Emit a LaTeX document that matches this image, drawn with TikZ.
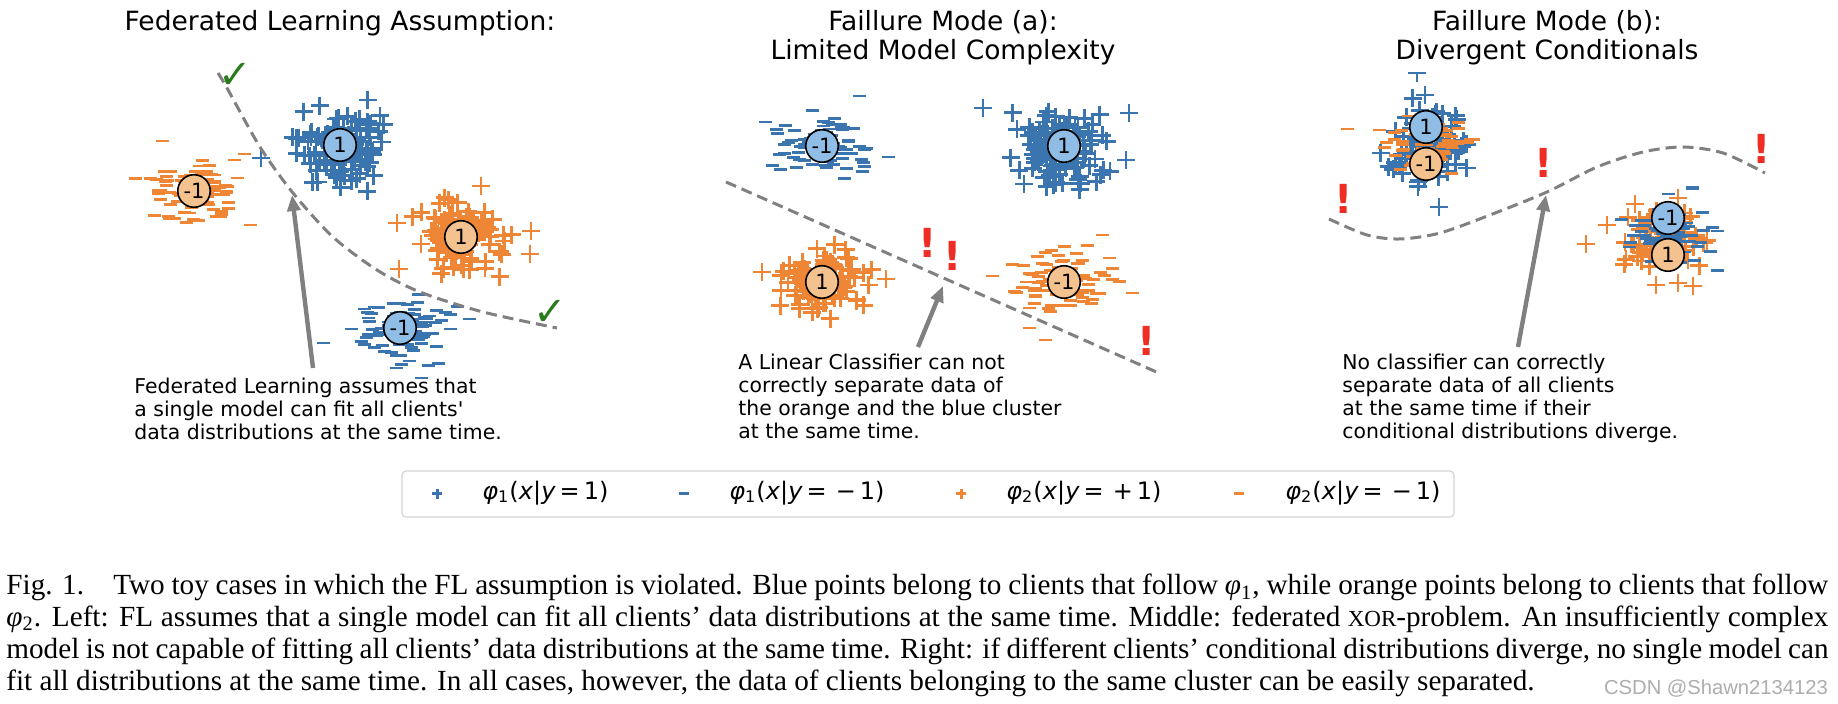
\documentclass[tikz,border=0pt]{standalone}
\usepackage{fontspec}
\setmainfont{DejaVu Sans}
\newfontfamily\capfont{Liberation Serif}
\newfontfamily\wmfont{Liberation Sans}
\usetikzlibrary{arrows.meta}
\definecolor{clblue}{HTML}{3B75AF}
\definecolor{clorange}{HTML}{EF8636}
\definecolor{fillblue}{HTML}{8FBDE6}
\definecolor{fillorange}{HTML}{F4C28E}
\definecolor{mygreen}{HTML}{2A7A1E}
\definecolor{myred}{HTML}{EE2E24}
\tikzset{
 plusmark/.pic={\draw (-9,0)--(9,0) (0,-9)--(0,9);},
 minusmark/.pic={\draw (-6.5,0)--(6.5,0);},
 cluster/.style={circle,draw=black,line width=0.8pt,minimum size=32.5*0.5pt,inner sep=0pt,font=\fontsize{10.5}{11}\selectfont},
 bluecenter/.style={cluster,fill=fillblue},
 orangecenter/.style={cluster,fill=fillorange},
 boundary/.style={gray,line width=1.5pt,dash pattern=on 5.5pt off 3pt},
 pointer/.style={-{Triangle[width=6.5pt,length=8pt]},gray,line width=2.2pt},
 titlelabel/.style={align=center,inner sep=0pt,anchor=north,font=\fontsize{13.25}{14.5}\selectfont},
 notelabel/.style={align=left,inner sep=0pt,anchor=north west,font=\fontsize{10.2}{11.5}\selectfont},
 alarm/.style={inner sep=0pt,text=myred,font=\fontsize{20}{20}\selectfont\bfseries},
 okmark/.style={inner sep=0pt,text=mygreen,font=\fontsize{20}{20}\selectfont},
 lglabel/.style={inner sep=0pt,anchor=west,font=\fontsize{12}{13}\selectfont}
}
% pic, colour, centre, spread, count
\newcommand{\cloud}[7]{
 \foreach \i in {1,...,#7}{
  \pgfmathsetmacro{\ptx}{#3+#5*(rand+rand+rand)}
  \pgfmathsetmacro{\pty}{#4+#6*(rand+rand+rand)}
  \pic[#2,line width=1.45pt] at (\ptx,\pty) {#1};
 }
}
\newcommand{\phisub}[1]{{\itshape φ}\textsubscript{#1}}
\newcommand{\capline}[1]{\makebox[911pt][s]{#1}\\}
\begin{document}
\begin{tikzpicture}[x=0.5pt,y=-0.5pt]
 \useasboundingbox (0,0) rectangle (1838,704);
 \pgfmathsetseed{17}
 % left panel
 \node[titlelabel] (title1) at (340,10) {Federated Learning Assumption:};
 \cloud{plusmark}{clblue}{340}{146}{21}{18}{110}
 \cloud{minusmark}{clorange}{194}{191}{23}{15}{85}
 \cloud{plusmark}{clorange}{458}{238}{20}{17}{110}
 \cloud{minusmark}{clblue}{400}{328}{23}{15}{90}
 \foreach \p in {(261,158)} {\pic[clblue,line width=1.45pt] at \p {plusmark};}
 \foreach \p in {(162,141),(244,154),(250,225)} {\pic[clorange,line width=1.45pt] at \p {minusmark};}
 \foreach \p in {(397,223),(481,186),(531,231),(530,254),(399,269)} {\pic[clorange,line width=1.45pt] at \p {plusmark};}
 \foreach \p in {(323,343),(351,329),(469,319),(450,329),(421,378),(396,368)} {\pic[clblue,line width=1.45pt] at \p {minusmark};}
 \draw[boundary] plot[smooth] coordinates {(218,73) (227,88) (260,147) (293,193) (333,237) (377,270) (420,292) (483,312) (557,328)};
 \coordinate (tail1) at (313,368);
 \coordinate (tip1) at (292,195);
 \draw[pointer] (tail1)--(tip1);
 \node[bluecenter] (c1a) at (340,145) {1};
 \node[orangecenter] (c1b) at (194,191) {-1};
 \node[orangecenter] (c1c) at (461,237) {1};
 \node[bluecenter] (c1d) at (400,328) {-1};
 \node[okmark] (ok1) at (235,76) {✓};
 \node[okmark] (ok2) at (550,313) {✓};
 \node[notelabel] (note1) at (134,378) {Federated Learning assumes that\\a single model can fit all clients\textquotesingle\\data distributions at the same time.};
 % middle panel
 \node[titlelabel] (title2) at (943,10) {Faillure Mode (a):\\Limited Model Complexity};
 \cloud{minusmark}{clblue}{822}{146}{22}{14}{85}
 \cloud{plusmark}{clblue}{1062}{148}{21}{18}{110}
 \cloud{plusmark}{clorange}{822}{282}{21}{16}{110}
 \cloud{minusmark}{clorange}{1064}{282}{23}{16}{85}
 \foreach \p in {(983,108),(1129,113),(1126,160)} {\pic[clblue,line width=1.45pt] at \p {plusmark};}
 \foreach \p in {(886,279),(762,272)} {\pic[clorange,line width=1.45pt] at \p {plusmark};}
 \foreach \p in {(859,96),(765,122),(888,157)} {\pic[clblue,line width=1.45pt] at \p {minusmark};}
 \foreach \p in {(992,276),(1102,235),(1045,340),(1029,328),(1132,293)} {\pic[clorange,line width=1.45pt] at \p {minusmark};}
 \coordinate (lineA) at (726,182);
 \coordinate (lineB) at (1161,374);
 \draw[boundary] (lineA)--(lineB);
 \coordinate (tail2) at (918,347);
 \coordinate (tip2) at (943,286);
 \draw[pointer] (tail2)--(tip2);
 \node[bluecenter] (c2a) at (822,146) {-1};
 \node[bluecenter] (c2b) at (1064,146) {1};
 \node[orangecenter] (c2c) at (822,282) {1};
 \node[orangecenter] (c2d) at (1064,282) {-1};
 \node[alarm] (al1) at (928,243) {!};
 \node[alarm] (al2) at (953,256) {!};
 \node[alarm] (al3) at (1147,341) {!};
 \node[notelabel] (note2) at (738,354) {A Linear Classifier can not\\correctly separate data of\\the orange and the blue cluster\\at the same time.};
 % right panel
 \node[titlelabel] (title3) at (1547,10) {Faillure Mode (b):\\Divergent Conditionals};
 \begin{scope}
  \clip (1300,73) rectangle (1530,260);
  \cloud{plusmark}{clblue}{1426}{146}{21}{18}{85}
  \foreach \p in {(1417,73),(1425,95),(1439,207)} {\pic[clblue,line width=1.45pt] at \p {plusmark};}
 \end{scope}
 \cloud{minusmark}{clorange}{1426}{146}{20}{13}{70}
 \foreach \p in {(1347,129),(1379,130)} {\pic[clorange,line width=1.45pt] at \p {minusmark};}
 \cloud{plusmark}{clorange}{1668}{238}{20}{15}{70}
 \cloud{minusmark}{clblue}{1668}{236}{20}{14}{75}
 \foreach \p in {(1586,244),(1656,285),(1678,283),(1693,286),(1635,204),(1607,225)} {\pic[clorange,line width=1.45pt] at \p {plusmark};}
 \foreach \p in {(1692,187),(1692,189),(1668,194)} {\pic[clblue,line width=1.45pt] at \p {minusmark};}
 \draw[boundary] plot[smooth] coordinates {(1329,219) (1367,235) (1400,239) (1440,233) (1490,215) (1547,192) (1597,167) (1643,152) (1683,147) (1723,153) (1765,173)};
 \coordinate (tail3) at (1518,347);
 \coordinate (tip3) at (1546,195);
 \draw[pointer] (tail3)--(tip3);
 \node[bluecenter] (c3a) at (1426,127) {1};
 \node[orangecenter] (c3b) at (1426,164) {-1};
 \node[bluecenter] (c3c) at (1668,218) {-1};
 \node[orangecenter] (c3d) at (1668,255) {1};
 \node[alarm] (al4) at (1344,199) {!};
 \node[alarm] (al5) at (1544,163) {!};
 \node[alarm] (al6) at (1762,149) {!};
 \node[notelabel] (note3) at (1342,354) {No classifier can correctly\\separate data of all clients\\at the same time if their\\conditional distributions diverge.};
 % legend
 \node[draw=black!17,line width=0.6pt,rounded corners=2pt,minimum width=526pt,minimum height=23pt,inner sep=0pt] (frame) at (928,494) {};
 \pic[clblue,line width=1.5pt,scale=0.6] at (437,494) {plusmark};
 \pic[clblue,line width=1.5pt,scale=0.8] at (684,494) {minusmark};
 \pic[clorange,line width=1.5pt,scale=0.6] at (961,494) {plusmark};
 \pic[clorange,line width=1.5pt,scale=0.8] at (1239,494) {minusmark};
 \node[lglabel] (lg1) at (482,493) {\phisub{1}(\textit{x}|\textit{y}\,=\,1)};
 \node[lglabel] (lg2) at (729,493) {\phisub{1}(\textit{x}|\textit{y}\,=\hspace{4.5pt}−\,1)};
 \node[lglabel] (lg3) at (1006,493) {\phisub{2}(\textit{x}|\textit{y}\,=\hspace{4.5pt}+\,1)};
 \node[lglabel] (lg4) at (1285,493) {\phisub{2}(\textit{x}|\textit{y}\,=\hspace{4.5pt}−\,1)};
 % caption
 \node[align=left,inner sep=0pt,anchor=north west,font=\capfont\fontsize{14.6}{15.85}\selectfont] (caption) at (6,574) {%
 \capline{Fig. 1.\hspace{1em}Two toy cases in which the FL assumption is violated. Blue points belong to clients that follow \phisub{1}, while orange points belong to clients that follow}
 \capline{\phisub{2}. Left: FL assumes that a single model can fit all clients’ data distributions at the same time. Middle: federated {\fontsize{11.5}{12}\selectfont XOR}-problem. An insufficiently complex}
 \capline{model is not capable of fitting all clients’ data distributions at the same time. Right: if different clients’ conditional distributions diverge, no single model can}
 fit all distributions at the same time. In all cases, however, the data of clients belonging to the same cluster can be easily separated.};
 \node[inner sep=0pt,text=black!32,font=\wmfont\fontsize{10.1}{12}\selectfont] (mark) at (1716,689) {CSDN @Shawn2134123};
\end{tikzpicture}
\end{document}
